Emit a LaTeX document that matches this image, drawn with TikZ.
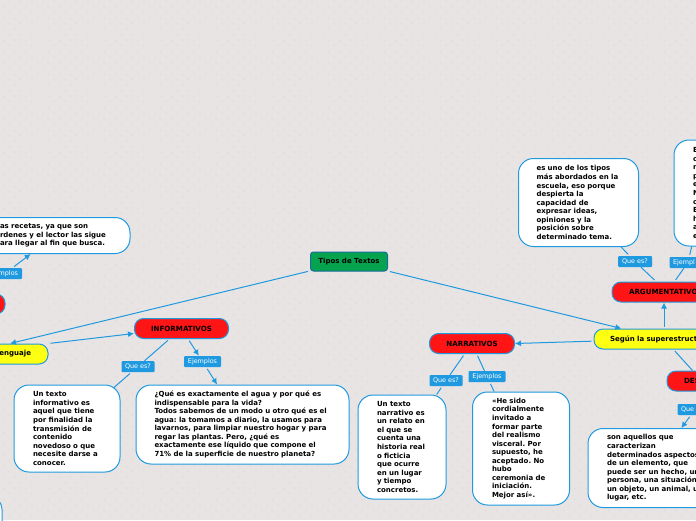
\documentclass[tikz,border=0pt]{standalone}
\usepackage{fontspec}
\usetikzlibrary{arrows.meta}
\setmainfont{DejaVu Sans}
\definecolor{paper}{HTML}{E8E4E4}
\definecolor{paperdot}{HTML}{DFDBDB}
\definecolor{linkblue}{HTML}{1F9AE0}
\definecolor{mainred}{HTML}{FF1515}
\definecolor{subyellow}{HTML}{FFFF12}
\definecolor{rootgreen}{HTML}{06A34E}
\begin{document}
\begin{tikzpicture}[
    x=1pt, y=-1pt,
    txt/.style={draw=linkblue, fill=white, rounded corners=15pt, line width=1pt,
                inner sep=0pt, align=left, font=\bfseries\fontsize{7}{8.55}\selectfont\frenchspacing},
    kind/.style={draw=linkblue, fill=mainred, rounded corners=9pt, line width=1pt, inner sep=0pt,
                 minimum height=20pt, font=\bfseries\fontsize{7.1}{8}\selectfont},
    sup/.style={draw=linkblue, fill=subyellow, rounded corners=9pt, line width=1pt, inner sep=0pt,
                minimum height=20pt, font=\bfseries\fontsize{7}{8}\selectfont},
    root/.style={draw=linkblue!70!black, fill=rootgreen, rounded corners=3pt, line width=1pt, inner sep=0pt,
                 minimum width=77pt, minimum height=19pt, font=\bfseries\fontsize{7}{8}\selectfont},
    tag/.style={fill=linkblue, text=white, rounded corners=1pt, inner sep=0pt, minimum height=11pt,
                font=\fontsize{6.4}{8}\selectfont},
    arr/.style={-{Latex[length=6pt,width=6pt]}, linkblue, line width=1pt, shorten <=2pt},
    lin/.style={linkblue, line width=1pt, shorten <=2pt}
  ]
    \useasboundingbox (0,0) rectangle (696,520);
    \clip (0,0) rectangle (696,520);
    \fill[paper] (0,0) rectangle (696,520);
    \foreach \i in {-1,...,62}
      \foreach \j in {0,...,93}
        \fill[paperdot] ({3.7+\i*11.2+(1-mod(\j,2))*5.6},{1.1+\j*5.6}) circle (0.8);

    % root
    \node[root] (tipos) at (349,261.5) {Tipos de Textos};

    % left branch
    \node[sup, minimum width=90pt, text width=56pt, align=right] (lenguaje) at (3,354) {enguaje};
    \node[kind, minimum width=94pt] (informativos) at (181.5,328.5) {INFORMATIVOS};
    \node[kind, minimum width=30pt] (instruct) at (-10,304) {};
    \node[txt, minimum width=150pt, text width=110pt, minimum height=36pt] (recetas) at (55,235.5)
      {as recetas, ya que son\\rdenes y el lector las sigue\\ara llegar al fin que busca.};
    \node[tag, minimum width=34pt, align=right, text width=26pt] (ejem0) at (5,273.5) {mplos};
    \node[txt, minimum width=106pt, text width=68pt, minimum height=87pt] (infoque) at (67,428.5)
      {Un texto\\informativo es\\aquel que tiene\\por finalidad la\\transmisión de\\contenido\\novedoso o que\\necesite darse a\\conocer.};
    \node[txt, minimum width=213pt, text width=176pt, minimum height=79pt] (infoej) at (242.5,424.5)
      {¿Qué es exactamente el agua y por qué es\\indispensable para la vida?\\Todos sabemos de un modo u otro qué es el\\agua: la tomamos a diario, la usamos para\\lavarnos, para limpiar nuestro hogar y para\\regar las plantas. Pero, ¿qué es\\exactamente ese líquido que compone el\\71\% de la superficie de nuestro planeta?};
    \node[tag, minimum width=33pt] (queinfo) at (138,366.5) {Que es?};
    \node[tag, minimum width=37pt] (ejeminfo) at (202.5,361.5) {Ejemplos};
    \node[txt, minimum width=30pt, minimum height=60pt] (corner) at (-13,525) {};

    % middle branch
    \node[kind, minimum width=85pt] (narrativos) at (472,343.5) {NARRATIVOS};
    \node[tag, minimum width=33pt] (quenarr) at (446,380.5) {Que es?};
    \node[tag, minimum width=37pt] (ejemnarr) at (487,376.5) {Ejemplos};
    \node[txt, minimum width=88pt, text width=50pt, minimum height=104pt] (narrque) at (402,447)
      {Un texto\\narrativo es\\un relato en\\el que se\\cuenta una\\historia real\\o ficticia\\que ocurre\\en un lugar\\y tiempo\\concretos.};
    \node[txt, minimum width=97pt, text width=58pt, minimum height=113pt] (narrej) at (521,448.5)
      {«He sido\\cordialmente\\invitado a\\formar parte\\del realismo\\visceral. Por\\supuesto, he\\aceptado. No\\hubo\\ceremonia de\\iniciación.\\Mejor así».};

    % right branch
    \node[sup, minimum width=140pt, text width=108pt, align=left] (super) at (664,339) {Según la superestruct};
    \node[kind, minimum width=110pt, text width=76pt, align=left] (argum) at (667,292) {ARGUMENTATIVO};
    \node[kind, minimum width=70pt, text width=36pt, align=left] (descrip) at (702,381) {DES};
    \node[txt, minimum width=120pt, text width=84pt, minimum height=88pt] (argque) at (578.5,202.5)
      {es uno de los tipos\\más abordados en la\\escuela, eso porque\\despierta la\\capacidad de\\expresar ideas,\\opiniones y la\\posición sobre\\determinado tema.};
    \node[txt, minimum width=60pt, text width=22pt, minimum height=106pt] (argej) at (704,193)
      {E\\c\\n\\p\\e\\N\\c\\E\\h\\a\\e};
    \node[tag, minimum width=34pt] (queargum) at (635,261.5) {Que es?};
    \node[tag, minimum width=37pt, text width=30pt, align=left] (ejemargum) at (688,262.5) {Ejempl};
    \node[tag, minimum width=35pt, text width=28pt, align=left] (quedesc) at (695,409.5) {Que};
    \node[txt, minimum width=128pt, text width=110pt, minimum height=79pt] (descque) at (652,468)
      {\leftskip=10pt son aquellos que\\caracterizan\\determinados aspectos\\de un elemento, que\\puede ser un hecho, un\\persona, una situación\\un objeto, un animal, u\\lugar, etc.\par};

    % connectors
    \draw[arr] (tipos) -- ([xshift=7pt]lenguaje.north);
    \draw[arr] (tipos) -- (super);
    \draw[arr] (lenguaje.north east) -- ([yshift=-5pt]informativos.west);
    \draw[arr] (super) -- (narrativos.east);
    \draw[arr] (super) -- ([xshift=-3pt]argum.south);
    \draw[lin] (super) -- (descrip);
    \draw[lin] (informativos) -- (queinfo);
    \draw[arr] (informativos) -- (ejeminfo);
    \draw[lin, shorten >=-5pt] (queinfo) -- (infoque);
    \draw[arr] (ejeminfo) -- (infoej);
    \draw[lin] (narrativos) -- (quenarr);
    \draw[lin] (narrativos) -- (ejemnarr);
    \draw[lin] (quenarr) -- (narrque);
    \draw[lin] (ejemnarr) -- (narrej);
    \draw[lin] (argum) -- (queargum);
    \draw[lin] (argum) -- (ejemargum);
    \draw[lin] (queargum) -- (argque);
    \draw[lin] (ejemargum) -- (argej);
    \draw[lin] (descrip) -- (quedesc);
    \draw[arr] (quedesc) -- (descque);
    \draw[arr] (ejem0) -- (recetas);
  \end{tikzpicture}
\end{document}
